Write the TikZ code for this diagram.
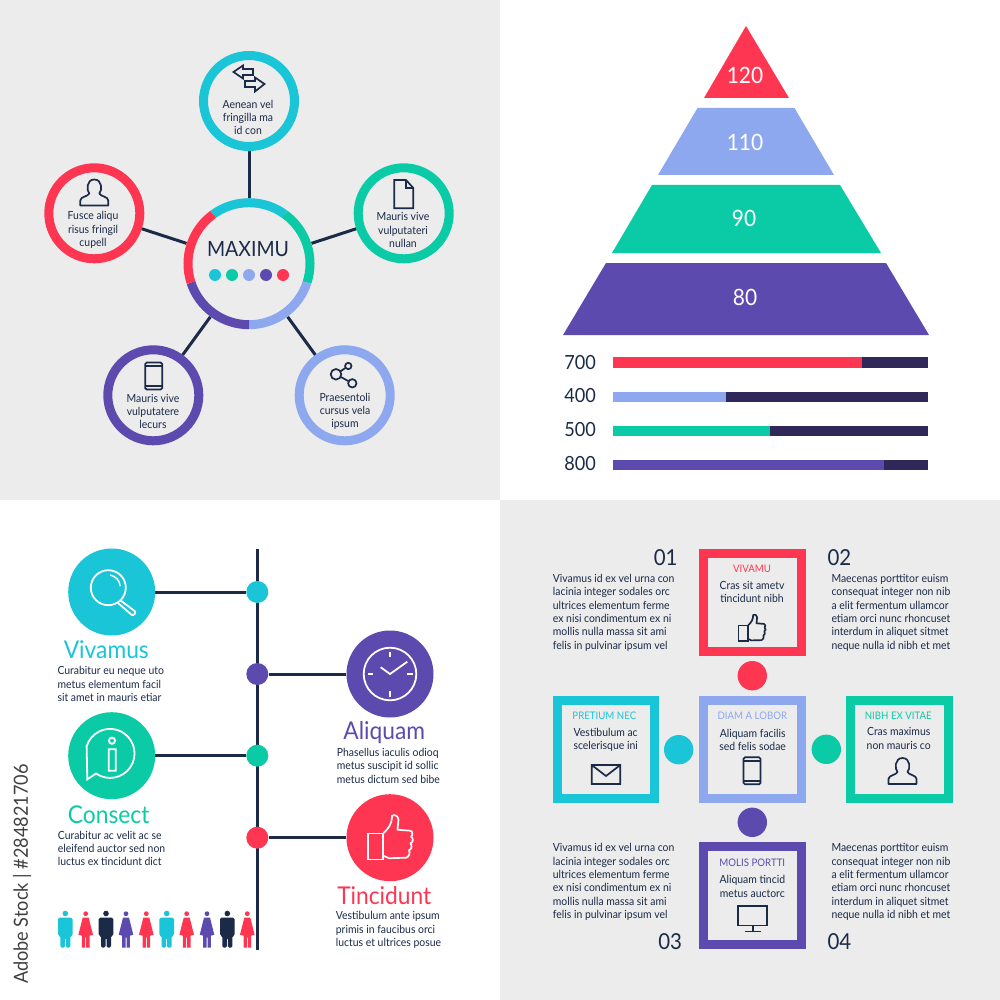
\documentclass[tikz,border=0pt]{standalone}
\usepackage{fontspec}
\setmainfont[FakeStretch=0.93]{Lato}
\definecolor{cyanc}{HTML}{1AC5D8}
\definecolor{greenc}{HTML}{0BCBA6}
\definecolor{periw}{HTML}{8EA8F0}
\definecolor{purp}{HTML}{5C4AAE}
\definecolor{redc}{HTML}{FF3652}
\definecolor{navy}{HTML}{1B2A47}
\definecolor{barc}{HTML}{2F2858}
\definecolor{panel}{HTML}{ECECEC}
\newcommand{\txtsize}{\fontsize{11.2}{13.3}\selectfont}
\tikzset{
  sat/.style={circle,draw=#1,line width=9,minimum size=91,inner sep=0},
  spoke/.style={draw=navy,line width=3},
  small/.style={font=\txtsize,text=navy,align=center,inner sep=0},
  para/.style={font=\txtsize,text=navy,align=left,inner sep=0,anchor=west},
  bigdot/.style={circle,fill=#1,minimum size=87,inner sep=0},
  smalldot/.style={circle,fill=#1,minimum size=22,inner sep=0},
  middot/.style={circle,fill=#1,minimum size=29.4,inner sep=0},
  boxed/.style={rectangle,draw=#1,line width=9,minimum size=97.7,inner sep=0},
  headl/.style={font=\fontsize{24.5}{28}\selectfont,text=#1,inner sep=0},
  boxhead/.style={font=\fontsize{10.4}{12}\selectfont,text=#1,inner sep=0},
  numl/.style={font=\fontsize{22}{24}\selectfont,text=navy,inner sep=0},
  barl/.style={font=\fontsize{19.5}{20}\selectfont,text=navy,inner sep=0,anchor=east},
  pyrl/.style={font=\fontsize{22.5}{24}\selectfont,text=white,inner sep=0},
  icon/.style={color=#1,line width=1.7},
  person/.pic={\draw[line join=round](-14,13)--(14,13)--(14,8) .. controls (14,4) and (6,4) .. (5,1) .. controls (8,-2) and (8,-13) .. (0,-13) .. controls (-8,-13) and (-8,-2) .. (-5,1) .. controls (-6,4) and (-14,4) .. (-14,8)--cycle;},
  phone/.pic={\draw[rounded corners=1.5](-8.5,-13.5) rectangle (8.5,13.5);\draw(-8.5,-10)--(8.5,-10);\draw(-8.5,10)--(8.5,10);},
  thumb/.pic={\draw(-22.3,-3.3) rectangle (-6.7,22.7);
    \draw[line join=round](-6.7,-3.3) .. controls (-2,-8) and (2,-12) .. (2,-21) .. controls (5,-22.5) and (8,-21) .. (8.5,-17)--(7.5,-7)--(20,-6) .. controls (23,-6) and (23,-1) .. (21,0) .. controls (23.5,1) and (23.5,6) .. (20.5,6.5) .. controls (22,8) and (22,13) .. (19,13.5) .. controls (20.5,15.5) and (19,21) .. (16,21)--(-1,21.5)--(-6.7,19);},
  man/.pic={\fill(0,2.8) circle (2.8);
    \fill[rounded corners=1.5](-7.3,7)--(7.3,7)--(7.3,25)--(5,25)--(5,37)--(.5,37)--(.5,27)--(-.5,27)--(-.5,37)--(-5,37)--(-5,25)--(-7.3,25)--cycle;},
  woman/.pic={\fill(0,3) circle (2.4);
    \fill(-3,7)--(3,7)--(7.3,24)--(3.8,25)--(3.8,37)--(.5,37)--(.5,27)--(-.5,27)--(-.5,37)--(-3.8,37)--(-3.8,25)--(-7.3,24)--cycle;}
}
\begin{document}
\begin{tikzpicture}[x=1pt,y=-1pt]
\useasboundingbox(0,0) rectangle (1000,1000);
\fill[panel](0,0) rectangle (500,500);
\fill[panel](500,500) rectangle (1000,1000);

\node[circle,minimum size=131,inner sep=0](hub) at (249,263.7){};
\node[sat=cyanc](sata) at (249,101){};
\node[sat=greenc](satb) at (403.7,213.3){};
\node[sat=periw](satc) at (344.7,395.3){};
\node[sat=purp](satd) at (153.3,395.3){};
\node[sat=redc](sate) at (94.3,213.3){};
\foreach \s in {sata,satb,satc,satd,sate}
  \draw[spoke](hub)--(\s);
\foreach \a/\col in {126/cyanc,54/greenc,-18/periw,-90/purp,-162/redc}
  \draw[\col,line width=9](hub.center)++(-\a:61) arc[start angle=-\a,delta angle=72,radius=61];
\node[text=navy,inner sep=0,font=\fontsize{21}{24}\selectfont](hubl) at (248,249){MAXIMU};
\foreach \x/\col in {215/cyanc,232/greenc,249/periw,266/purp,283/redc}
  \node[circle,fill=\col,minimum size=12,inner sep=0](d\col) at (\x,275){};
\node[small](txta) at (248,117.5){Aenean vel\\fringilla ma\\id con};
\node[small](txtb) at (403,230){Mauris vive\\vulputateri\\nullan};
\node[small](txtc) at (345,411.5){Praesentoli\\cursus vela\\ipsum};
\node[small](txtd) at (153,411.5){Mauris vive\\vulputatere\\lecurs};
\node[small](txte) at (93,230){Fusce aliqu\\risus fringil\\cupell};
\draw[navy,line width=1.7]
  (233.5,72)--(243,65.5)--(243,69)--(253,69)--(253,75)--(243,75)--(243,78.5)--cycle
  (264.5,84)--(255,77.5)--(255,81)--(245,81)--(245,87)--(255,87)--(255,91.5)--cycle;
\draw[navy,line width=1.7](394.3,180)--(406,180)--(413.3,188)--(413.3,208.3)--(394.3,208.3)--cycle (406,180)--(406,188)--(413.3,188);
\pic[icon=navy] at (94.3,192.5){person};
\pic[icon=navy] at (153.7,376){phone};
\draw[navy,line width=1.7](348.3,366)--(336,374.3)--(352.3,383.3);
\draw[navy,line width=1.7,fill=panel](348.3,366) circle (3.2) (336,374.3) circle (5.3) (352.3,383.3) circle (4.2);

\fill[redc](746,26)--(789,98)--(704,98)--cycle;
\fill[periw](697.5,108)--(794.5,108)--(834,175)--(658,175)--cycle;
\fill[greenc](652,185)--(840,185)--(881,253)--(612,253)--cycle;
\fill[purp](606,263)--(886,263)--(929,335)--(563,335)--cycle;
\node[pyrl](pyra) at (745,75){120};
\node[pyrl](pyrb) at (745,142){110};
\node[pyrl](pyrc) at (744,218){90};
\node[pyrl](pyrd) at (745,297){80};
\foreach \y/\e/\col/\v/\ly in {357.3/861.7/redc/700/362.7,391.7/725.7/periw/400/396,425.7/770.3/greenc/500/429.3,459.7/884/purp/800/463.3}{
  \fill[barc](613,\y) rectangle (928,\y+10.6);
  \fill[\col](613,\y) rectangle (\e,\y+10.6);
  \node[barl](bar\v) at (596,\ly){\v};
}

\draw[navy,line width=3](257.3,549.3)--(257.3,950);
\node[smalldot=cyanc](ptd) at (257.3,592){};
\node[smalldot=purp](pte) at (257.3,674){};
\node[smalldot=greenc](ptf) at (257.3,755.7){};
\node[smalldot=redc](ptg) at (257.3,837.7){};
\node[bigdot=cyanc](cird) at (111.7,592){};
\node[bigdot=purp](cire) at (390,674){};
\node[bigdot=greenc](cirf) at (111.7,755.7){};
\node[bigdot=redc](cirg) at (390,837.7){};
\draw[spoke](cird)--(ptd);
\draw[spoke](cire)--(pte);
\draw[spoke](cirf)--(ptf);
\draw[spoke](cirg)--(ptg);
\node[headl=cyanc](headd) at (106.3,650){Vivamus};
\node[para](parad) at (57.3,684){Curabitur eu neque uto\\metus elementum facil\\sit amet in mauris etiar};
\node[headl=purp](heade) at (384.3,732.5){Aliquam};
\node[para](parae) at (336.7,765.7){Phasellus iaculis odioq\\metus suscipit id sollic\\metus dictum sed bibe};
\node[headl=greenc](headf) at (108.7,814.5){Consect};
\node[para](paraf) at (57.7,848.3){Curabitur ac velit ac se\\eleifend auctor sed non\\luctus ex tincidunt dict};
\node[headl=redc](headg) at (384.3,896){Tincidunt};
\node[para](parag) at (335.7,930){Vestibulum ante ipsum\\primis in faucibus orci\\luctus et ultrices posue};
\draw[white,line width=1.8](108.3,587.7) circle (17.5);
\draw[white,line width=1.4](110,575) arc[start angle=-80,delta angle=75,radius=12.5];
\draw[white,line width=1.8,rounded corners=2](120,600)--(136,612)--(133,616)--(118,603);
\draw[white,line width=1.8](390,674) circle (26.3);
\draw[white,line width=1.8](380.7,667.3)--(390,674)--(407.3,661.7);
\draw[white,line width=1.8](390,651.5)--(390,657) (390,691)--(390,696.5) (367.5,674)--(373,674) (407,674)--(412.5,674);
\draw[white,line width=1.8](96,773.5) arc[start angle=125,delta angle=-288,radius=24.5]--(87.3,779.3)--cycle;
\draw[white,line width=1.8](112,740.7) circle (3.1) (108.7,749.3) rectangle (115.7,770.7);
\pic[icon=white] at (390,836.7){thumb};
\foreach \x/\k/\col in {65.3/man/cyanc,85.7/woman/redc,106/man/navy,126/woman/purp,146.3/woman/redc,166.7/man/cyanc,186.7/woman/redc,207/woman/purp,227.3/man/navy,247.3/woman/redc}
  \pic[color=\col] at (\x,910.7){\k};
\node[rotate=90,text=black!75,inner sep=0,font=\fontsize{19.5}{22}\selectfont](idl) at (22,874){Adobe Stock | \#284821706};

\node[boxed=redc](boxa) at (752.7,602.3){};
\node[boxed=cyanc](boxb) at (606,749.3){};
\node[boxed=periw](boxc) at (752.7,749.3){};
\node[boxed=greenc](boxd) at (899.7,749.3){};
\node[boxed=purp](boxe) at (752.7,895.7){};
\node[middot=redc](dota) at (752.3,675.7){};
\node[middot=cyanc](dotb) at (678.7,749.7){};
\node[middot=greenc](dotc) at (826.3,749.3){};
\node[middot=purp](dote) at (752.3,822.3){};
\node[boxhead=redc](heada) at (752,569){VIVAMU};
\node[boxhead=cyanc](headb) at (604.3,715.7){PRETIUM NEC};
\node[boxhead=periw](headc) at (752.3,715.7){DIAM A LOBOR};
\node[boxhead=greenc](headh) at (898.3,715.3){NIBH EX VITAE};
\node[boxhead=purp](headi) at (752.3,862.3){MOLIS PORTTI};
\node[small](linea) at (752,592.3){Cras sit ametv\\tincidunt nibh};
\node[small](lineb) at (605.7,739.7){Vestibulum ac\\scelerisque ini};
\node[small](linec) at (752.7,739.7){Aliquam facilis\\sed felis sodae};
\node[small](lined) at (898.7,738.5){Cras maximus\\non mauris co};
\node[small](linee) at (752.3,886.3){Aliquam tincid\\metus auctorc};
\pic[icon=navy,scale=.6] at (752,627.5){thumb};
\pic[icon=navy] at (752,770.8){phone};
\pic[icon=navy] at (902.5,771){person};
\draw[navy,line width=1.7](591.7,765) rectangle (620.3,784) (591.7,765)--(606,776)--(620.3,765);
\draw[navy,line width=1.7](738.3,906) rectangle (767.3,925.5) (752.8,925.5)--(752.8,931) (745,931.5)--(760.5,931.5);
\node[para](parah) at (552.7,612.7){Vivamus id ex vel urna con\\lacinia integer sodales orc\\ultrices elementum ferme\\ex nisi condimentum ex ni\\mollis nulla massa sit ami\\felis in pulvinar ipsum vel};
\node[para](parai) at (831.3,612.7){Maecenas porttitor euism\\consequat integer non nib\\a elit fermentum ullamcor\\etiam orci nunc rhoncuset\\interdum in aliquet sitmet\\neque nulla id nibh et met};
\node[para](paraj) at (552.7,882){Vivamus id ex vel urna con\\lacinia integer sodales orc\\ultrices elementum ferme\\ex nisi condimentum ex ni\\mollis nulla massa sit ami\\felis in pulvinar ipsum vel};
\node[para](parak) at (831.3,882){Maecenas porttitor euism\\consequat integer non nib\\a elit fermentum ullamcor\\etiam orci nunc rhoncuset\\interdum in aliquet sitmet\\neque nulla id nibh et met};
\node[numl,anchor=east](numa) at (677.7,557.3){01};
\node[numl,anchor=west](numb) at (827.3,557.3){02};
\node[numl,anchor=east](numc) at (682.3,941.7){03};
\node[numl,anchor=west](numd) at (827.3,941.7){04};
\end{tikzpicture}
\end{document}
